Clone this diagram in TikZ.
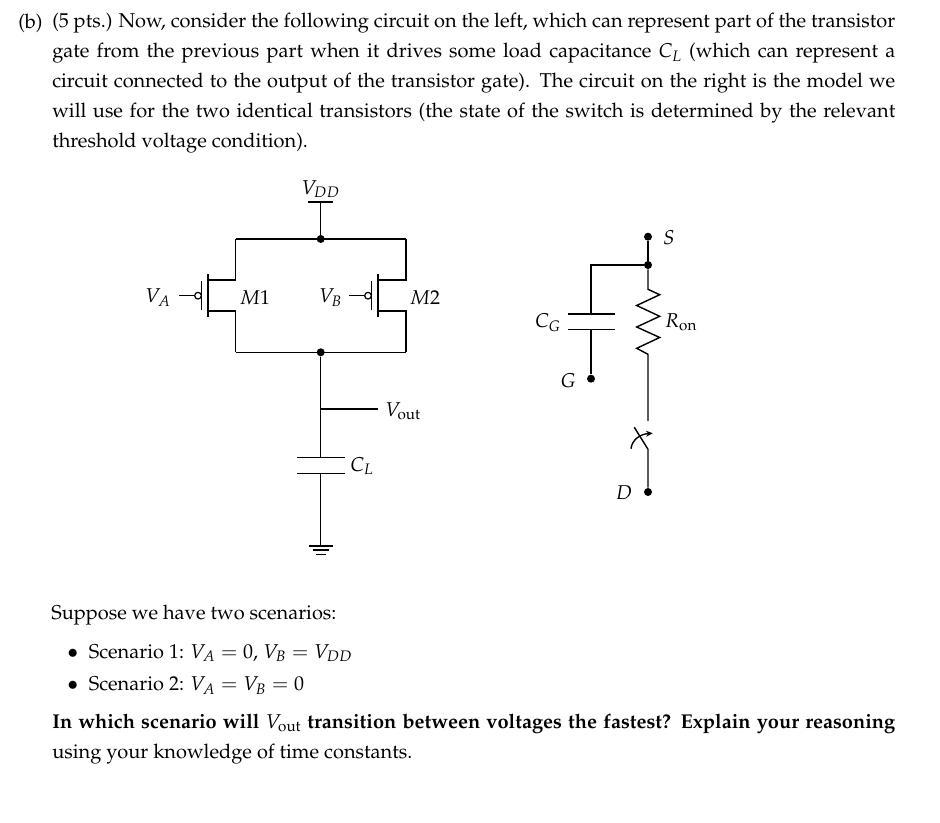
\documentclass[tikz,border=0pt]{standalone}
\usepackage[T1]{fontenc}
\usepackage{mathpazo}
\usepackage{amsmath}
\usetikzlibrary{arrows.meta, positioning, calc}
\tikzset{
  wire/.style={line width=1.05pt},
  dot/.style={circle,fill=black,inner sep=0pt,minimum size=6pt},
  bubble/.style={circle,draw,fill=white,line width=0.9pt,inner sep=0pt,minimum size=5pt},
  lab/.style={inner sep=0pt,font=\fontsize{15}{18}\selectfont},
  para/.style={anchor=north west,inner sep=0pt,text width=632.25pt,align=justify,font=\fontsize{15}{22.5}\selectfont},
  line/.style={anchor=base west,inner sep=0pt,font=\fontsize{15}{18}\selectfont}
}
\begin{document}
\begin{tikzpicture}[x=0.75pt,y=-0.75pt]
\useasboundingbox (0,0) rectangle (940,823);
\node[line] (partb) at (18,29) {(b)};
\node[para] (intro) at (52,13) {(5 pts.) Now, consider the following circuit on the left, which can represent part of the transistor\linebreak gate from the previous part when it drives some load capacitance $C_L$ (which can represent a\linebreak circuit connected to the output of the transistor gate). The circuit on the right is the model we\linebreak will use for the two identical transistors (the state of the switch is determined by the relevant\linebreak threshold voltage condition).};
\coordinate (VDDl) at (308,202);
\coordinate (VDDr) at (333,202);
\coordinate (VDDm) at (320.7,202);
\node[lab] (VDD) at (320.7,189) {$V_{DD}$};
\node[dot] (T) at (320.7,239) {};
\node[dot] (B) at (320.7,352.3) {};
\coordinate (TL) at (235.7,239);
\coordinate (TR) at (406,239);
\coordinate (BL) at (235.7,352.3);
\coordinate (BR) at (406,352.3);
\draw[wire] (VDDl) -- (VDDr);
\draw[wire] (VDDm) -- (T);
\draw[wire] (TL) -- (TR);
\draw[wire] (BL) -- (BR);
\coordinate (M1s) at (208,280);
\coordinate (M1d) at (208,311);
\coordinate (M1t) at (208,274.3);
\coordinate (M1b) at (208,317);
\coordinate (M1pt) at (201.3,281);
\coordinate (M1pb) at (201.3,310.3);
\node[bubble] (GA) at (198,295.7) {};
\coordinate (INA) at (179.3,295.7);
\draw[wire] (M1t) -- (M1b);
\draw[wire] (M1pt) -- (M1pb);
\draw[wire] (INA) -- (GA);
\draw[wire] (M1s) -| (TL);
\draw[wire] (M1d) -| (BL);
\node[lab] (VA) at (158,297.5) {$V_A$};
\node[lab] (M1) at (255,297.5) {$M1$};
\coordinate (M2s) at (378,280);
\coordinate (M2d) at (378,311);
\coordinate (M2t) at (378,274.3);
\coordinate (M2b) at (378,317);
\coordinate (M2pt) at (371.7,281);
\coordinate (M2pb) at (371.7,310.3);
\node[bubble] (GB) at (368,295.7) {};
\coordinate (INB) at (349.3,295.7);
\draw[wire] (M2t) -- (M2b);
\draw[wire] (M2pt) -- (M2pb);
\draw[wire] (INB) -- (GB);
\draw[wire] (M2s) -| (TR);
\draw[wire] (M2d) -| (BR);
\node[lab] (VB) at (330.5,297.5) {$V_B$};
\node[lab] (M2) at (425,297.5) {$M2$};
\coordinate (OUTm) at (320.7,409);
\coordinate (OUTe) at (377.7,409);
\node[lab] (Vout) at (403,411) {$V_{\text{out}}$};
\coordinate (CLt) at (320.7,457.7);
\coordinate (CLb) at (320.7,473.7);
\coordinate (CLtl) at (297.3,457.7);
\coordinate (CLtr) at (344.7,457.7);
\coordinate (CLbl) at (297.3,473.7);
\coordinate (CLbr) at (344.7,473.7);
\node[lab] (CL) at (362,466) {$C_L$};
\coordinate (GND) at (320.7,546);
\coordinate (GNDal) at (309.3,546);
\coordinate (GNDar) at (332.7,546);
\coordinate (GNDbl) at (313,550);
\coordinate (GNDbr) at (329,550);
\coordinate (GNDcl) at (316,554.3);
\coordinate (GNDcr) at (326,554.3);
\draw[wire] (B) -- (CLt);
\draw[wire] (OUTm) -- (OUTe);
\draw[wire] (CLtl) -- (CLtr);
\draw[wire] (CLbl) -- (CLbr);
\draw[wire] (CLb) -- (GND);
\draw[wire] (GNDal) -- (GNDar);
\draw[wire] (GNDbl) -- (GNDbr);
\draw[wire] (GNDcl) -- (GNDcr);
\node[dot] (S) at (648,236.7) {};
\node[dot] (J) at (648,265) {};
\node[dot] (G) at (591,378.7) {};
\node[dot] (D) at (648,492) {};
\node[lab] (Slab) at (669,238) {$S$};
\node[lab] (Glab) at (568,380.5) {$G$};
\node[lab] (Dlab) at (624,492.5) {$D$};
\node[lab] (CG) at (548,323) {$C_G$};
\node[lab] (Ron) at (681,322) {$R_{\text{on}}$};
\coordinate (JL) at (591,265);
\coordinate (CGt) at (591,314);
\coordinate (CGb) at (591,329.7);
\coordinate (CGtl) at (567.7,314);
\coordinate (CGtr) at (615,314);
\coordinate (CGbl) at (567.7,329.7);
\coordinate (CGbr) at (615,329.7);
\draw[wire] (S) -- (J);
\draw[wire] (J) -- (JL) -- (CGt);
\draw[wire] (CGtl) -- (CGtr);
\draw[wire] (CGbl) -- (CGbr);
\draw[wire] (CGb) -- (G);
\coordinate (Rt) at (648,289.3);
\coordinate (Rb) at (648,354.3);
\coordinate (SWt) at (648,421);
\coordinate (SWb) at (648,449.3);
\coordinate (SWo) at (634.3,427.3);
\coordinate (ARa) at (631,448.7);
\coordinate (ARb) at (652.7,433.3);
\draw[wire,line join=miter] (J) -- (Rt) -- (659.7,294.7) -- (636.7,305.5) -- (659.7,316.3) -- (636.7,327) -- (659.7,337.5) -- (636.7,348.3) -- (Rb) -- (SWt);
\draw[wire] (SWo) -- (SWb) -- (D);
\draw[wire,-{Stealth[length=5pt,width=4.5pt]}] (ARa) .. controls (632,440) and (640,434) .. (ARb);
\node[line] (suppose) at (51,620) {Suppose we have two scenarios:};
\node[line] (bulA) at (67,658) {$\bullet$};
\node[line] (scA) at (88.5,658) {Scenario 1: $V_A=0$, $V_B=V_{DD}$};
\node[line] (bulB) at (67,691) {$\bullet$};
\node[line] (scB) at (88.5,691) {Scenario 2: $V_A=V_B=0$};
\node[para] (question) at (52,714) {\textbf{In which scenario will $V_{\textnormal{out}}$ transition between voltages the fastest? Explain your reasoning}\linebreak using your knowledge of time constants.};
\end{tikzpicture}
\end{document}
